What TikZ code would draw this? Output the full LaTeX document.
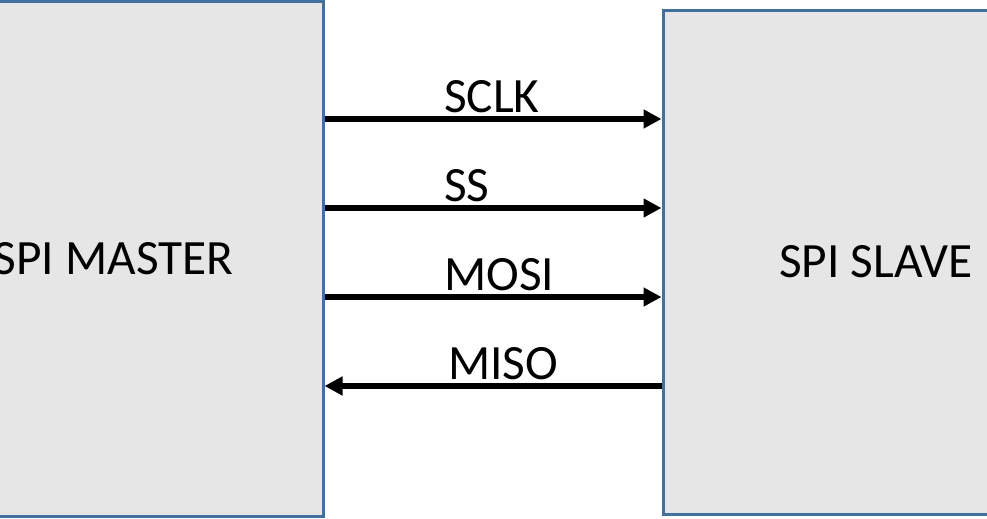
\documentclass[tikz,border=0pt]{standalone}
\usepackage{fontspec}
\setmainfont{Carlito}
\usepackage{tikz}
\usetikzlibrary{arrows.meta}
\usetikzlibrary{positioning}

\definecolor{boxline}{HTML}{41719C}
\definecolor{boxfill}{HTML}{E6E6E6}

\begin{document}
\begin{tikzpicture}[x=0.75pt, y=-0.75pt,
	spibox/.style={draw=boxline, fill=boxfill, line width=2.25pt, inner sep=0pt,
		font=\fontsize{37}{44}\selectfont},
	sig/.style={line width=4.5pt, -{Triangle[length=13.5pt, width=13.5pt]}},
	siglabel/.style={anchor=base west, inner sep=0pt, font=\fontsize{37}{44}\selectfont}]
	\useasboundingbox (0,0) rectangle (987,518);
	\clip (0,0) rectangle (987,518);
	
	\node[spibox, minimum width=314.25pt, minimum height=386.25pt] (master) at (113.5,258.5) {SPI MASTER};
	\node[spibox, minimum width=319.5pt, minimum height=378pt] (slave) at (876,262) {SPI SLAVE};
	
	% master -> slave
	\foreach \lbl/\yy [count=\i] in {SCLK/119, SS/208, MOSI/297} {
		\draw[sig] (master.east |- 0,\yy) -- (slave.west |- 0,\yy);
		\node[siglabel] (sig\i) at (444,\yy-7) {\lbl};
	}
	
	% slave -> master
	\draw[sig] (slave.west |- 0,386) -- (master.east |- 0,386);
	\node[siglabel] (sig4) at (448,379) {MISO};
\end{tikzpicture}
\end{document}
